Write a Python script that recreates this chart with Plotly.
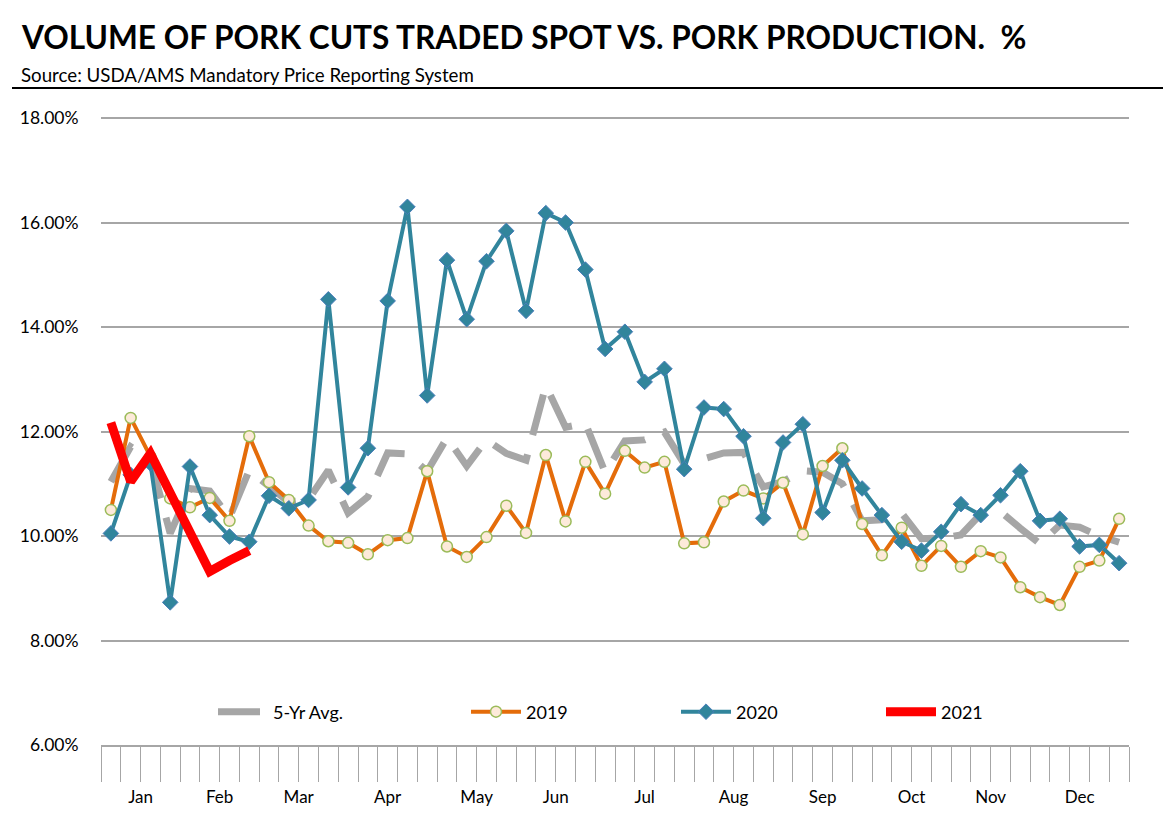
import numpy as np
import plotly.graph_objects as go

# ---------------- data ----------------
months = ["Jan", "Feb", "Mar", "Apr", "May", "Jun", "Jul", "Aug", "Sep", "Oct", "Nov", "Dec"]
weeks_per_month = [4, 4, 4, 5, 4, 4, 5, 4, 5, 4, 4, 5]

avg5 = [11.04, 11.71, 11.47, 10.05, 10.91, 10.86, 10.35, 11.26, 10.95, 10.65,
        10.70, 11.26, 10.44, 10.75, 11.59, 11.57, 11.24, 11.88, 11.34, 11.84,
        11.58, 11.45, 12.88, 12.08, 12.16, 11.22, 11.82, 11.84, 11.99, 11.38,
        11.48, 11.59, 11.60, 10.94, 11.04, 11.25, 11.22, 11.00, 10.29, 10.31,
        10.44, 9.95, 9.96, 10.02, 10.42, 10.47, 10.15, 9.85, 10.21, 10.17,
        10.00, 9.88]

y2019 = [10.50, 12.26, 11.52, 10.72, 10.55, 10.73, 10.29, 11.91, 11.03, 10.69,
         10.20, 9.90, 9.87, 9.65, 9.92, 9.96, 11.24, 9.80, 9.60, 9.98,
         10.58, 10.06, 11.55, 10.28, 11.42, 10.81, 11.63, 11.31, 11.42, 9.86,
         9.88, 10.66, 10.87, 10.72, 11.02, 10.03, 11.34, 11.68, 10.23, 9.63,
         10.16, 9.43, 9.81, 9.41, 9.71, 9.59, 9.02, 8.83, 8.68, 9.41,
         9.53, 10.33]

y2020 = [10.05, 11.17, 11.39, 8.73, 11.33, 10.40, 9.99, 9.89, 10.77, 10.53,
         10.69, 14.53, 10.93, 11.68, 14.50, 16.30, 12.69, 15.28, 14.15, 15.26,
         15.84, 14.31, 16.18, 16.00, 15.10, 13.58, 13.91, 12.95, 13.20, 11.28,
         12.46, 12.43, 11.91, 10.34, 11.79, 12.14, 10.45, 11.45, 10.91, 10.40,
         9.89, 9.72, 10.08, 10.61, 10.40, 10.78, 11.24, 10.29, 10.33, 9.80,
         9.83, 9.48]

y2021 = [12.17, 11.04, 11.58, 10.81, 10.05, 9.32, 9.53, 9.72]

y_ticks = [6, 8, 10, 12, 14, 16, 18]
y_ticktext = [f"{v:.2f}%" for v in y_ticks]

title_text = "VOLUME OF PORK CUTS TRADED SPOT VS. PORK PRODUCTION.  %"
source_text = "Source: USDA/AMS Mandatory Price Reporting System"

# ---------------- derived axis positions ----------------
month_bounds = np.concatenate([[0], np.cumsum(weeks_per_month)]) - 0.5
month_centers = (month_bounds[:-1] + month_bounds[1:]) / 2
n_weeks = int(np.sum(weeks_per_month))
week_bounds = np.arange(n_weeks + 1) - 0.5

FONT = "Lato"
GRID = "#A6A6A6"

fig = go.Figure()

fig.add_trace(go.Scatter(
    x=np.arange(len(avg5)), y=avg5, name="5-Yr Avg.", mode="lines",
    line=dict(color="#A6A6A6", width=7, dash="42px,20px"),
    legend="legend"))

fig.add_trace(go.Scatter(
    x=np.arange(len(y2019)), y=y2019, name="2019", mode="lines+markers",
    line=dict(color="#E46C0A", width=4),
    marker=dict(symbol="circle", size=11, color="#FDEADA",
                line=dict(color="#9BBB59", width=1.5)),
    legend="legend2"))

fig.add_trace(go.Scatter(
    x=np.arange(len(y2020)), y=y2020, name="2020", mode="lines+markers",
    line=dict(color="#31859C", width=4),
    marker=dict(symbol="diamond", size=12, color="#31859C",
                line=dict(color="#4A7EBB", width=1)),
    legend="legend3"))

fig.add_trace(go.Scatter(
    x=np.arange(len(y2021)), y=y2021, name="2021", mode="lines",
    line=dict(color="#FF0000", width=9),
    legend="legend4"))

# invisible helper trace for the month label axis
fig.add_trace(go.Scatter(
    x=month_centers, y=[None] * len(month_centers), xaxis="x2",
    mode="markers", showlegend=False, hoverinfo="skip"))

Y_MIN, Y_MAX = 6, 18.02
L, R, T, B = 101, 34, 117, 80
W, H = 1163, 825
pw, ph = W - L - R, H - T - B


def px_to_paper_x(px):
    return (px - L) / pw


def px_to_paper_y(py):
    return (H - B - py) / ph


legend_common = dict(orientation="h", yanchor="middle", xanchor="left",
                     bgcolor="rgba(0,0,0,0)", borderwidth=0, itemwidth=50,
                     font=dict(family=FONT, size=18, color="#000000"),
                     y=px_to_paper_y(712))

fig.update_layout(
    width=W, height=H,
    margin=dict(l=L, r=R, t=T, b=B, pad=0),
    paper_bgcolor="white", plot_bgcolor="white",
    font=dict(family=FONT, size=16, color="#000000"),
    title=dict(text="<b>" + title_text + "</b>", xref="container", yref="container",
               x=22 / W, xanchor="left", y=1 - 38 / H, yanchor="middle",
               font=dict(family=FONT, size=31.6, color="#000000")),
    showlegend=True,
    legend=dict(**legend_common, x=px_to_paper_x(213)),
    legend2=dict(**legend_common, x=px_to_paper_x(466)),
    legend3=dict(**legend_common, x=px_to_paper_x(676)),
    legend4=dict(**legend_common, x=px_to_paper_x(881)),
    xaxis=dict(range=[week_bounds[0], week_bounds[-1]],
               tickmode="array", tickvals=month_bounds,
               ticktext=[""] * len(month_bounds),
               ticks="outside", ticklen=63, tickwidth=1, tickcolor=GRID,
               showgrid=False, zeroline=False,
               showline=True, linecolor=GRID, linewidth=1.5,
               minor=dict(tickmode="array", tickvals=week_bounds, ticks="outside",
                          ticklen=35, tickwidth=1, tickcolor=GRID, showgrid=False)),
    xaxis2=dict(range=[week_bounds[0], week_bounds[-1]], overlaying="x",
                anchor="y", side="bottom",
                tickmode="array", tickvals=month_centers, ticktext=months,
                ticks="outside", ticklen=37, tickcolor="rgba(0,0,0,0)",
                showgrid=False, zeroline=False, showline=False,
                tickfont=dict(family=FONT, size=17, color="#000000")),
    yaxis=dict(range=[Y_MIN, Y_MAX], tickmode="array", tickvals=y_ticks,
               ticktext=y_ticktext,
               ticks="outside", ticklen=18, tickcolor="rgba(0,0,0,0)",
               showgrid=True, gridcolor=GRID, gridwidth=1.5,
               zeroline=False, showline=False,
               tickfont=dict(family=FONT, size=17.5, color="#000000")),
)

fig.add_annotation(text=source_text, xref="paper", yref="paper",
                   x=px_to_paper_x(19), y=px_to_paper_y(75),
                   xanchor="left", yanchor="middle", showarrow=False,
                   font=dict(family=FONT, size=18.7, color="#000000"))

fig.add_shape(type="line", xref="paper", yref="paper",
              x0=px_to_paper_x(12), x1=px_to_paper_x(W),
              y0=px_to_paper_y(88), y1=px_to_paper_y(88),
              line=dict(color="#000000", width=2))

fig.write_html("out.html")
